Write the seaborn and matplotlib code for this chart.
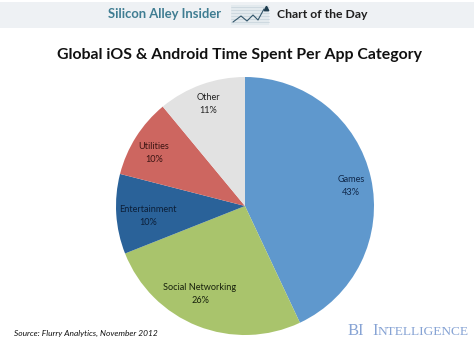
import matplotlib
matplotlib.use("Agg")
import matplotlib.pyplot as plt
import seaborn as sns
from matplotlib.patches import Rectangle

categories = ["Games", "Social Networking", "Entertainment", "Utilities", "Other"]
shares = [43, 26, 10, 10, 11]
colors = ["#5f98cd", "#a9c46c", "#2a6299", "#cd6660", "#e2e2e2"]

# label centres in pixels, the reference places them by hand
label_pos = [(351, 186), (200, 294), (148, 216), (154, 153), (208, 104)]
label_colors = ["#10284a", "#17200c", "#0c1f38", "#3a1412", "#222222"]

icon_x = [233, 241, 247, 253, 258, 264]
icon_y = [22, 16, 21, 15, 20, 9]

W, H = 474, 355

sns.set_theme(style="white")
plt.rcParams["font.family"] = ["Lato", "DejaVu Sans"]

fig = plt.figure(figsize=(W / 100, H / 100), dpi=100)


def px(x, y):
    return x / W, 1 - y / H


# header band
fig.add_artist(Rectangle((0, 1 - 28 / H), 1, 26 / H, transform=fig.transFigure,
                         color="#eef1f4", lw=0))
fig.add_artist(Rectangle((231 / W, 1 - 25 / H), 38 / W, 20 / H, transform=fig.transFigure,
                         color="#e3eaee", lw=0))
for y in range(7, 25, 3):
    fig.add_artist(plt.Line2D([231 / W, 269 / W], [1 - y / H] * 2, transform=fig.transFigure,
                              color="#c6d3da", lw=0.5))
fig.add_artist(plt.Line2D([x / W for x in icon_x], [1 - y / H for y in icon_y],
                          transform=fig.transFigure, color="#33566b", lw=0.8))
fig.add_artist(plt.Line2D([265.5 / W], [1 - 7.5 / H], transform=fig.transFigure, marker="^",
                          ms=3.2, color="#1f3d4f", lw=0))
fig.text(*px(164.5, 14.5), "Silicon Alley Insider", ha="center", va="center",
         fontsize=9.4, fontweight="bold", color="#3f7d92")
fig.text(*px(322, 14.5), "Chart of the Day", ha="center", va="center",
         fontsize=8.8, fontweight="bold", color="#1f1f1f")

fig.text(*px(239.5, 54.5), "Global iOS & Android Time Spent Per App Category", ha="center",
         va="center", fontsize=11.4, fontweight="bold", color="#111111")

# pie, centre (245, 206) radius 129 px
ax = fig.add_axes([(245 - 129) / W, 1 - (206 + 129) / H, 258 / W, 258 / H])
ax.pie(shares, colors=colors, startangle=90, counterclock=False, radius=1,
       wedgeprops={"linewidth": 0})
ax.set_xlim(-1, 1)
ax.set_ylim(-1, 1)

for name, share, (x, y), c in zip(categories, shares, label_pos, label_colors):
    fig.text(*px(x, y), f"{name}\n{share}%", ha="center", va="center", fontsize=6.6,
             color=c, linespacing=1.5)

fig.text(*px(14, 333.5), "Source: Flurry Analytics, November 2012", ha="left", va="center",
         fontsize=6.0, style="italic", color="#111111")

for x, s, size in [(348, "BI", 12), (372.5, "I", 12), (378, "NTELLIGENCE", 9.6)]:
    fig.text(*px(x, 335), s, ha="left", va="baseline", fontsize=size,
             family="Liberation Serif", color="#86a3d4")

fig.savefig("out.png", dpi=100)
